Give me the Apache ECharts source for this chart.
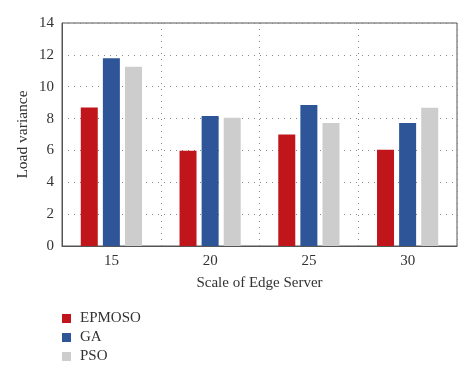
<!DOCTYPE html>
<html><head><meta charset="utf-8">
<script src="https://cdn.jsdelivr.net/npm/echarts@6/dist/echarts.min.js"></script>
<style>html,body{margin:0;padding:0;background:#fff}#c{width:474px;height:379px}</style>
</head><body><div id="c"></div>
<script>
const categories = ['15', '20', '25', '30'];
const epmoso = [8.7, 5.98, 7.0, 6.05];
const ga = [11.78, 8.16, 8.85, 7.72];
const pso = [11.26, 8.05, 7.72, 8.68];
const yTicks = { min: 0, max: 14, interval: 2 };

const font = 'Liberation Serif';
const chart = echarts.init(document.getElementById('c'));
chart.setOption({
  animation: false,
  textStyle: { fontFamily: font },
  grid: { left: 62, right: 17, top: 23, bottom: 133, show: true, borderColor: '#555', borderWidth: 1 },
  legend: {
    orient: 'vertical', left: 57, top: 306, height: 70, itemWidth: 9, itemHeight: 9, itemGap: 4,
    icon: 'rect',
    textStyle: { fontFamily: font, fontSize: 15, color: '#333', padding: [0, 0, 0, 4] },
    data: ['EPMOSO', 'GA', 'PSO']
  },
  xAxis: {
    type: 'category', data: categories,
    name: 'Scale of Edge Server', nameLocation: 'middle', nameGap: 30,
    nameTextStyle: { fontFamily: font, fontSize: 15, color: '#333' },
    axisLine: { lineStyle: { color: '#555' } },
    axisTick: { show: false },
    axisLabel: { fontFamily: font, fontSize: 15, color: '#333', margin: 8 },
    splitLine: { show: true, lineStyle: { type: [1, 5], color: '#888' } }
  },
  yAxis: {
    type: 'value', min: yTicks.min, max: yTicks.max, interval: yTicks.interval,
    name: 'Load variance', nameLocation: 'middle', nameGap: 31, nameMoveOverlap: false,
    nameTextStyle: { fontFamily: font, fontSize: 15.5, color: '#333' },
    axisLine: { show: true, lineStyle: { color: '#555' } },
    axisTick: { show: false },
    axisLabel: { fontFamily: font, fontSize: 15, color: '#333', margin: 8 },
    splitLine: { show: true, lineStyle: { type: [1, 5], color: '#888' } }
  },
  series: [
    { name: 'EPMOSO', type: 'bar', data: epmoso, barWidth: 17, barGap: '30%', itemStyle: { color: '#C0161B' } },
    { name: 'GA', type: 'bar', data: ga, barWidth: 17, barGap: '30%', itemStyle: { color: '#2D5597' } },
    { name: 'PSO', type: 'bar', data: pso, barWidth: 17, barGap: '30%', itemStyle: { color: '#CDCDCD' } }
  ]
});
</script></body></html>
